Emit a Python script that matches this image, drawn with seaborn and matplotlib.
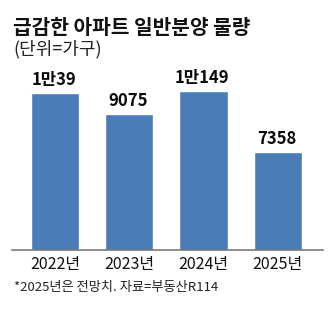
import matplotlib
matplotlib.use("Agg")
import matplotlib.pyplot as plt
import seaborn as sns
import pandas as pd

# Data
years = ["2022년", "2023년", "2024년", "2025년"]
supply = [10039, 9075, 10149, 7358]
value_labels = ["1만39", "9075", "1만149", "7358"]

title = "급감한 아파트 일반분양 물량"
unit_note = "(단위=가구)"
footnote = "*2025년은 전망치. 자료=부동산R114"

sns.set_theme(style="white")
plt.rcParams["font.family"] = ["Noto Sans CJK KR", "DejaVu Sans"]

W, H = 335, 332
fig = plt.figure(figsize=(W / 100, H / 100), dpi=100)
fig.patch.set_facecolor("white")

# axes placed in pixel terms: left 12, right 323, top 70, bottom 250
ax = fig.add_axes([12 / W, 1 - 250 / H, (323 - 12) / W, (250 - 70) / H])

df = pd.DataFrame({"year": years, "supply": supply})
sns.barplot(data=df, x="year", y="supply", color="#4a7db8", saturation=1,
            width=0.65, ax=ax)

ax.set_ylim(2900, 11100)
ax.set_xlim(-0.58, 3.61)
ax.set_xlabel("")
ax.set_ylabel("")
ax.set_yticks([])
for s in ["top", "right", "left"]:
    ax.spines[s].set_visible(False)
ax.spines["bottom"].set_color("#7a7a7a")
ax.spines["bottom"].set_linewidth(1.2)
ax.tick_params(axis="x", length=0, pad=4, labelsize=11.5, labelcolor="#111111")
ax.set_facecolor("white")

for i, (v, lab) in enumerate(zip(supply, value_labels)):
    ax.annotate(lab, (i, v), xytext=(-1, 3), textcoords="offset points",
                ha="center", va="bottom", fontsize=12, fontweight="bold",
                color="#0a0a0a")

fig.text(13 / W, 1 - 17 / H, title, ha="left", va="top", fontsize=14.6,
         fontweight="bold", color="#111111")
fig.text(13 / W, 1 - 40 / H, unit_note, ha="left", va="top", fontsize=13,
         fontweight="light", color="#222222")
fig.text(14 / W, 1 - 281 / H, footnote, ha="left", va="top", fontsize=9.5,
         color="#222222")

fig.savefig("out.png", dpi=100, facecolor="white")
